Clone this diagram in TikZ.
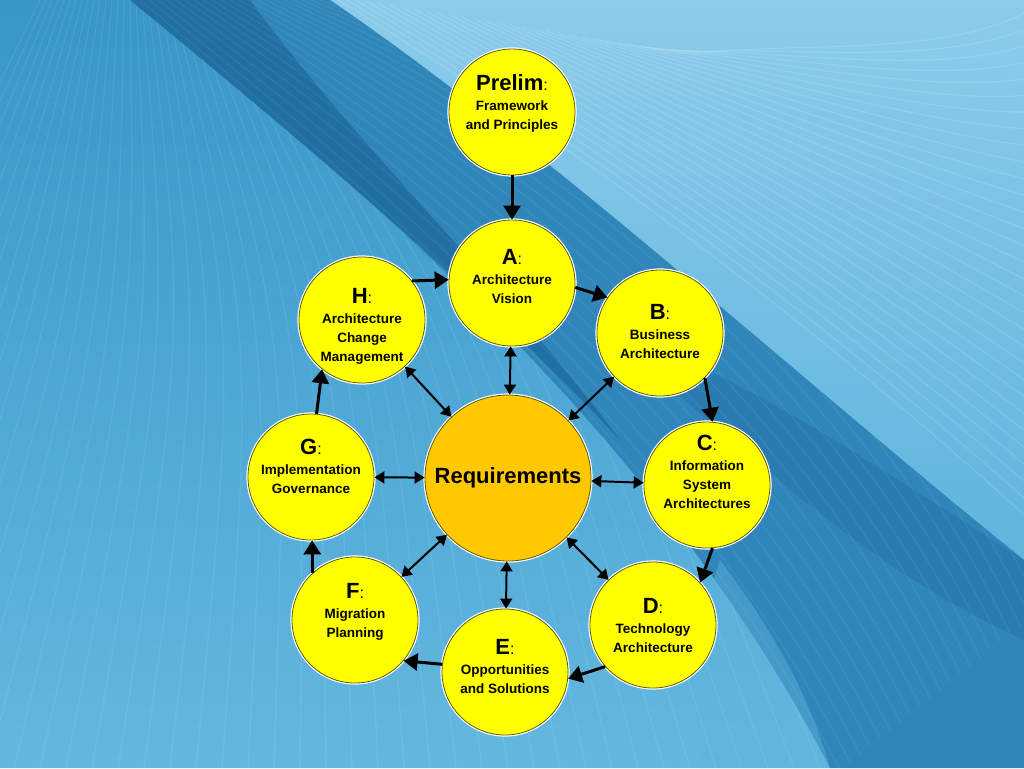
\documentclass[tikz,border=0pt]{standalone}
\usepackage{fontspec}
\setmainfont{Liberation Sans}
\usetikzlibrary{arrows.meta}
\definecolor{bgmid}{RGB}{66,162,208}
\definecolor{bgleftT}{RGB}{56,150,200}
\definecolor{bgleftB}{RGB}{100,184,224}
\definecolor{bgband}{RGB}{48,134,186}
\definecolor{bgcore}{RGB}{30,104,156}
\definecolor{bglight}{RGB}{96,180,222}
\definecolor{bgtop}{RGB}{140,204,234}
\definecolor{cyellow}{RGB}{255,255,0}
\definecolor{corange}{RGB}{255,200,0}
\definecolor{cborder}{RGB}{90,90,10}
\begin{document}
\begin{tikzpicture}[x=1pt,y=-1pt,
  phase/.style={circle, minimum size=126pt, inner sep=0pt, fill=cyellow, draw=cborder,
    line width=0.8pt, preaction={draw=white, line width=3.2pt}},
  reqnode/.style={phase, minimum size=166pt, fill=corange},
  txt/.style={align=center, inner sep=0pt, text=black, font=\fontsize{13.5}{19}\selectfont\bfseries},
  flow/.style={line width=3pt, -{Triangle[length=14pt,width=17pt]}},
  dbl/.style={line width=2pt, {Triangle[length=10pt,width=12pt]}-{Triangle[length=10pt,width=12pt]}},
  streak/.style={white, line width=1.2pt, opacity=0.08}
]
\useasboundingbox (0,0) rectangle (1024,768);
% ---------- background ----------
\fill[bgmid] (0,0) rectangle (1024,768);
\shade[top color=bgleftT, bottom color=bgleftB] (0,0) -- (130,0) .. controls (350,180) and (650,420) .. (830,768) -- (0,768) -- cycle;
\shade[top color=bgtop, bottom color=bglight] (330,0) .. controls (550,150) and (800,380) .. (1024,560) -- (1024,0) -- cycle;
\fill[bgband] (130,0) .. controls (350,180) and (650,420) .. (830,768) -- (1024,768) -- (1024,560)
   .. controls (800,380) and (550,150) .. (330,0) -- cycle;
\fill[bgcore, opacity=0.75] (130,0) .. controls (300,140) and (480,290) .. (620,440)
   .. controls (500,280) and (360,150) .. (250,0) -- cycle;
\fill[bgcore, opacity=0.3] (600,330) .. controls (750,450) and (850,560) .. (1024,640)
   -- (1024,560) .. controls (850,450) and (720,360) .. (600,330) -- cycle;
\fill[bglight, opacity=0.45] (720,560) .. controls (780,640) and (810,700) .. (830,768) -- (700,768) .. controls (690,700) and (700,620) .. (720,560) -- cycle;
\begin{scope}
  \clip (0,0) -- (130,0) .. controls (350,180) and (650,420) .. (830,768) -- (0,768) -- cycle;
  \foreach \k in {0,...,45} {
    \draw[streak] ({-350+\k*26},768) .. controls ({-120+\k*17},330) .. ({40+\k*6},0);
  }
\end{scope}
\begin{scope}
  \clip (330,0) .. controls (550,150) and (800,380) .. (1024,560) -- (1024,0) -- cycle;
  \foreach \k in {0,...,30} {
    \draw[streak, opacity=0.12] ({330+\k*12},{-5+\k*2}) .. controls ({600+\k*6},{160-\k*4}) and ({820+\k*4},{330-\k*9}) .. (1030,{520-\k*17});
  }
\end{scope}
\begin{scope}
  \clip (130,0) .. controls (350,180) and (650,420) .. (830,768) -- (1024,768) -- (1024,560)
   .. controls (800,380) and (550,150) .. (330,0) -- cycle;
  \foreach \k in {0,...,24} {
    \draw[streak, opacity=0.06] ({140+\k*9},0) .. controls ({360+\k*14},{185-\k*3}) and ({660+\k*12},{425-\k*6}) .. ({840+\k*10},{770-\k*8});
  }
\end{scope}
% ---------- phase circles ----------
\node[phase] (P) at (512,112) {};
\node[phase] (A) at (512,283) {};
\node[phase] (B) at (660,333) {};
\node[phase] (C) at (707,485) {};
\node[phase] (D) at (653,625) {};
\node[phase] (E) at (505,672) {};
\node[phase] (F) at (355,620) {};
\node[phase] (G) at (311,477) {};
\node[phase] (H) at (362,320) {};
\node[reqnode] (R) at (508,478) {};
% ---------- texts ----------
\newcommand{\phaseid}[1]{{\fontsize{22}{24}\selectfont\bfseries #1}{\fontsize{16}{19}\selectfont\mdseries :}\\[1pt]}
\node[txt] (Pt) at (512,103) {\phaseid{Prelim}Framework\\and Principles};
\node[txt] (At) at (512,276) {\phaseid{A}Architecture\\Vision};
\node[txt] (Bt) at (660,331) {\phaseid{B}Business\\Architecture};
\node[txt] (Ct) at (707,472) {\phaseid{C}Information\\System\\Architectures};
\node[txt] (Dt) at (653,625) {\phaseid{D}Technology\\Architecture};
\node[txt] (Et) at (505,666) {\phaseid{E}Opportunities\\and Solutions};
\node[txt] (Ft) at (355,612) {\phaseid{F}Migration\\Planning};
\node[txt] (Gt) at (311,466) {\phaseid{G}Implementation\\Governance};
\node[txt] (Ht) at (362,326) {\phaseid{H}Architecture\\Change\\Management};
\node[inner sep=0pt, font=\fontsize{22}{24}\selectfont\bfseries] (Rt) at (R) {Requirements};
% ---------- cycle arrows ----------
\draw[flow] (P.south) -- (A.north);
\draw[flow] (A.-4) -- (B.146);
\draw[flow] (B.-45) -- (C.85);
\draw[flow] (C.-85) -- (D.42);
\draw[flow] (D.221) -- (E.-6);
\draw[flow] (E.173) -- (F.-40);
\draw[flow] (F.132) -- (G.-89);
\draw[flow] (G.85) -- (H.231);
\draw[flow] (H.38) -- (A.177);
% ---------- requirements links ----------
\foreach \n in {A,B,C,D,E,F,G,H} {
  \draw[dbl] (R) -- (\n);
}
\end{tikzpicture}
\end{document}
